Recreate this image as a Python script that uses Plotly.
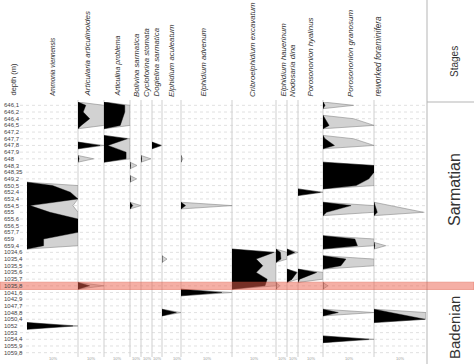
import plotly.graph_objects as go

# ---------------- data ----------------
DEPTHS = ["646,1", "646,2", "646,4", "646,5", "647,2", "647,7", "647,8", "647,9", "648", "648,3",
          "648,35", "649,2", "650,5", "652,4", "653,4", "654,5", "655", "655,6", "656,5", "657,7",
          "659", "659,4", "1034,6", "1035,4", "1035,5", "1035,6", "1035,7", "1035,8", "1041,6", "1042,9",
          "1047,7", "1048,8", "1050,4", "1052", "1053", "1054,4", "1055,9", "1059,8"]

TAXA = ["Ammonia viennensis", "Articularia articulinoides", "Articulina problema", "Bolivina sarmatica",
        "Cycloforina stomata", "Dogielina sarmatica", "Elphidium aculeatum", "Elphidium advenum",
        "Cribroelphidium excavatum", "Elphidium hauerinum", "Nodosaria dina", "Porosononion hyalinus",
        "Porosononion granosum", "reworked foraminifera"]

#                 0    1    2    3    4    5    6    7    8    9   10   11   12   13   14   15   16   17   18   19   20   21   22   23   24   25   26   27   28   29   30   31   32   33   34   35   36   37
ammonia      = [  0,   0,   0,   0,   0,   0,   0,   0,   0,   0,   0,   0,  10,  17,  21, 1.2,   9,  24,  24,  22, 6.5, 6.5,   0,   0,   0,   0,   0,   0,   0,   0,   0,   0,   0,  18,   0,   0,   0,   0]
articularia  = [  6,   4,   9, 2.5,   0,   0,  17,   0, 0.8,   0,   0,   0,   0,   0,   0,   0,   0,   0,   0,   0,   0,   0,   0,   0,   0,   0,   0,   9,   0,   0,   0,   0,   0,   0,   0,   0,   0,   0]
articulina   = [ 16,  16,  14,12.5,   0,  18,   3,  17,  17,   0,   0,   0,   0,   0,   0,   0,   0,   0,   0,   0,   0,   0,   0,   0,   0,   0,   0,   0,   0,   0,   0,   0,   0,   0,   0,   0,   0,   0]
bolivina     = [  0,   0,   0,   0,   0,   0,   0,   0,   0,0.85,   0, 0.8,   0,   0,   0,   5,   0,   0,   0,   0,   0,   0,   0,   0,   0,   0,   0,   0,   0,   0,   0,   0,   0,   0,   0,   0,   0,   0]
cycloforina  = [  0,   0,   0,   0,   0,   0,   0,   0, 1.2,   0,   0,   0,   0,   0,   0,   0,   0,   0,   0,   0,   0,   0,   0,   0,   0,   0,   0,   0,   0,   0,   0,   0,   0,   0,   0,   0,   0,   0]
dogielina    = [  0,   0,   0,   0,   0,   0,  18,   0,   0,   0,   0,   0,   0,   0,   0,   0,   0,   0,   0,   0,   0,   0,   0,   0,   0,   0,   0,   0,   0,   0,   0,   0,   0,   0,   0,   0,   0,   0]
aculeatum    = [  0,   0,   0,   0,   0,   0,   0,   0,   0,   0,   0,   0,   0,   0,   0,   0,   0,   0,   0,   0,   0,   0,   0,0.22,   0,   0,   0,   0,   0,   0,   0, 9.5,   0,   0,   0,   0,   0,   0]
advenum      = [  0,   0,   0,   0,   0,   0,   0,   0,0.05,   0,   0,   0,   0,   0,   0, 1.8,   0,   0,   0,   0,   0,   0,   0,   0,   0,   0,   0,   0,  16,   0,   0,   0,   0,   0,   0,   0,   0,   0]
excavatum    = [  0,   0,   0,   0,   0,   0,   0,   0,   0,   0,   0,   0,   0,   0,   0,   0,   0,   0,   0,   0,   0,   0,  19,  11,  14,  11,  16,  15,   0,   0,   0,   0,   0,   0,   0,   0,   0,   0]
hauerinum    = [  0,   0,   0,   0,   0,   0,   0,   0,   0,   0,   0,   0,   0,   0,   0,   0,   0,   0,   0,   0,   0,   0,   8,   9,   0,   0,   0,0.45,   0,   0,   0,   0,   0,   0,   0,   0,   0,   0]
nodosaria    = [  0,   0,   0,   0,   0,   0,   0,   0,   0,   0,   0,   0,   0,   0,   0,   0,   0,   0,   0,   0,   0,   0,  14,   0,   0,  18,   9,   0,   0,   0,   0,   0,   0,   0,   0,   0,   0,   0]
hyalinus     = [  0,   0,   0,   0,   0,   0,   0,   0,   0,   0,   0,   0,   0,  18,   0,   0,   0,   0,   0,   0,   0,   0,   0,   0,   0,  15, 1.4,   0,   0,   0,   0,   0,   0,   0,   0,   0,   0,   0]
granosum     = [0.8,   0, 0.8, 2.4,   0, 0.8, 4.5,   0,   0,  20,  20,  18,  13,   0,   0,  11, 1.4,   0,   0,   0,12.5,13.5,   0,   9,   7,   0,   0,0.13,   0,   0,   0,   6,   0,   0,   0,  18,   0,   0]
reworked     = [  0,   0,   0,   0,   0,   0,   0,   0,   0,   0,   0,   0,   0,   0,   0,0.45,1.27,   0,   0,   0,   0, 0.3,   0,   0,   0,   0,   0,   0,   0,   0,   0, 6.6,19.6,   0,   0,   0,   0,   0]

SERIES = [ammonia, articularia, articulina, bolivina, cycloforina, dogielina, aculeatum, advenum,
          excavatum, hauerinum, nodosaria, hyalinus, granosum, reworked]
SCALES = [20, 20, 20, 20, 20, 20, 12.5, 20, 20, 20, 20, 20, 20, 20]   # % at full column width
TICK_VALUES = [10] * 14
TICK_LABELS = ["10%"] * 14
EXAGGERATION = 15

STAGES = ["Sarmatian", "Badenian"]
HIGHLIGHT_ROW = 27

# ---------------- layout constants (pixels) ----------------
W, H = 474, 364
TOP, BOTTOM = 102, 8
PH = H - TOP - BOTTOM
COL_EDGES = [27, 78, 104, 130, 141, 152, 162, 181, 232, 276, 287, 298, 323, 374, 426]
TITLE_X = [52, 87, 117, 136, 146, 156, 171.5, 203, 252.5, 282.5, 292.5, 310, 350, 377]
TITLE_SIZE = [6.3, 8, 7, 7.8, 7.8, 7.8, 7.8, 7.8, 7.8, 7.8, 7.8, 7.8, 8, 8.3]
STAGE_X = 427
FONT = "Liberation Sans, Arial, sans-serif"


def px_x(x):
    return x / W


def px_y(y):
    return (H - BOTTOM - y) / PH


fig = go.Figure()
n = len(DEPTHS)


def runs(vals):
    out, cur = [], []
    for i, v in enumerate(vals):
        if v and v > 0:
            cur.append(i)
        elif cur:
            out.append(cur)
            cur = []
    if cur:
        out.append(cur)
    return out


for k, (vals, scale) in enumerate(zip(SERIES, SCALES)):
    xa = "x" if k == 0 else f"x{k + 1}"
    for run in runs(vals):
        ys = [run[0] - 0.5] + run + [run[-1] + 0.5, run[0] - 0.5]
        gx = [0] + [min(vals[i] * EXAGGERATION, scale) for i in run] + [0, 0]
        bx = [0] + [min(vals[i], scale) for i in run] + [0, 0]
        fig.add_trace(go.Scatter(x=gx, y=ys, xaxis=xa, yaxis="y", mode="lines", fill="toself",
                                 fillcolor="#d2d2d2", line=dict(color="#8a8a8a", width=0.6),
                                 hoverinfo="skip", showlegend=False))
        fig.add_trace(go.Scatter(x=bx, y=ys, xaxis=xa, yaxis="y", mode="lines", fill="toself",
                                 fillcolor="#000000", line=dict(color="#000000", width=0.4),
                                 hoverinfo="skip", showlegend=False))

layout = dict(width=W, height=H, margin=dict(l=0, r=0, t=TOP, b=BOTTOM),
              paper_bgcolor="white", plot_bgcolor="rgba(0,0,0,0)", showlegend=False,
              yaxis=dict(range=[n - 0.5, -0.5], visible=False, domain=[0, 1]))
for k, scale in enumerate(SCALES):
    name = "xaxis" if k == 0 else f"xaxis{k + 1}"
    layout[name] = dict(domain=[px_x(COL_EDGES[k]), px_x(COL_EDGES[k + 1])], range=[0, scale],
                        visible=False, anchor="y")
fig.update_layout(**layout)

shapes = []
# row grid lines
for i in range(n):
    shapes.append(dict(type="line", xref="paper", yref="y", x0=px_x(20), x1=px_x(COL_EDGES[-1]), y0=i, y1=i,
                       line=dict(color="#d4d4d4", width=0.7, dash="dot"), layer="below"))
# column boundaries
for x in COL_EDGES[1:-1]:
    shapes.append(dict(type="line", xref="paper", yref="paper", x0=px_x(x), x1=px_x(x),
                       y0=px_y(357), y1=px_y(100), line=dict(color="#cfcfcf", width=1), layer="below"))
# stage column frame
shapes.append(dict(type="line", xref="paper", yref="paper", x0=px_x(STAGE_X), x1=px_x(STAGE_X),
                   y0=px_y(H), y1=px_y(0), line=dict(color="#b5b5b5", width=1)))
shapes.append(dict(type="line", xref="paper", yref="paper", x0=px_x(STAGE_X), x1=1,
                   y0=px_y(102), y1=px_y(102), line=dict(color="#b5b5b5", width=1)))
# highlighted sample
shapes.append(dict(type="rect", xref="paper", yref="y", x0=0, x1=1,
                   y0=HIGHLIGHT_ROW - 0.55, y1=HIGHLIGHT_ROW + 0.55,
                   fillcolor="rgba(236,95,75,0.5)", line=dict(color="rgba(220,80,60,0.5)", width=0.8),
                   layer="above"))
fig.update_layout(shapes=shapes)

ann = []
for i, d in enumerate(DEPTHS):
    ann.append(dict(text=d, xref="paper", yref="y", x=px_x(2), y=i, xanchor="left", yanchor="middle",
                    showarrow=False, font=dict(family=FONT, size=6, color="#444")))
for k, t in enumerate(TAXA):
    ann.append(dict(text=f"<i>{t}</i>", xref="paper", yref="paper", x=px_x(TITLE_X[k]), y=px_y(99),
                    xanchor="center", yanchor="bottom", textangle=-90, showarrow=False,
                    font=dict(family=FONT, size=TITLE_SIZE[k], color="#333")))
    tx = COL_EDGES[k] + TICK_VALUES[k] / SCALES[k] * (COL_EDGES[k + 1] - COL_EDGES[k])
    ann.append(dict(text=TICK_LABELS[k], xref="paper", yref="paper", x=px_x(tx), y=px_y(358.5),
                    xanchor="center", yanchor="middle", showarrow=False,
                    font=dict(family=FONT, size=4, color="#999")))
ann.append(dict(text="depth (m)", xref="paper", yref="paper", x=px_x(13), y=px_y(98),
                xanchor="center", yanchor="bottom", textangle=-90, showarrow=False,
                font=dict(family=FONT, size=7.5, color="#333")))
ann.append(dict(text="Stages", xref="paper", yref="paper", x=px_x(454), y=px_y(62),
                xanchor="center", yanchor="middle", textangle=-90, showarrow=False,
                font=dict(family=FONT, size=10, color="#333")))
ann.append(dict(text=STAGES[0], xref="paper", yref="paper", x=px_x(454), y=px_y(190),
                xanchor="center", yanchor="middle", textangle=-90, showarrow=False,
                font=dict(family=FONT, size=16, color="#333")))
ann.append(dict(text=STAGES[1], xref="paper", yref="paper", x=px_x(454), y=px_y(328),
                xanchor="center", yanchor="middle", textangle=-90, showarrow=False,
                font=dict(family=FONT, size=15, color="#333")))
fig.update_layout(annotations=ann)

fig.write_html("out.html", config={"displayModeBar": False},
               post_script="document.body.style.margin='0px';document.body.style.overflow='hidden';")
